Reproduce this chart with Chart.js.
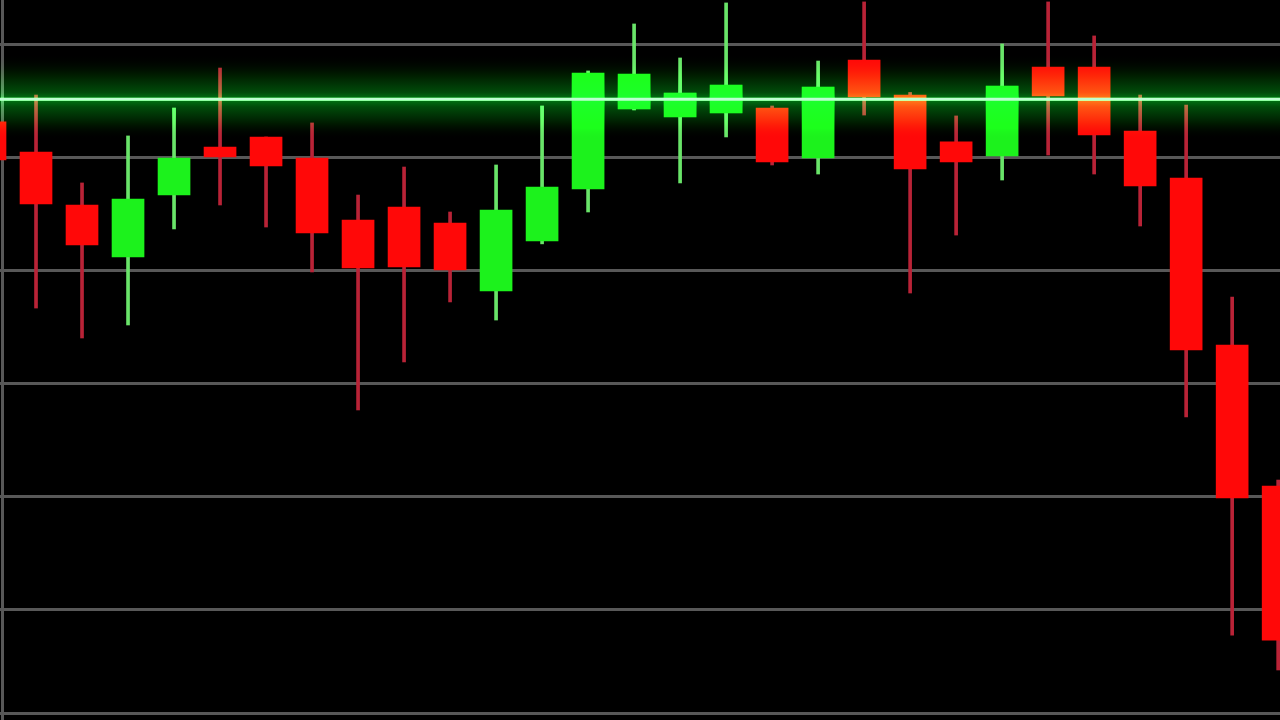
<!DOCTYPE html>
<html>
<head>
<meta charset="utf-8">
<script src="https://cdn.jsdelivr.net/npm/chart.js@4"></script>
<style>
  html, body { margin: 0; padding: 0; background: #000; }
  #chart { display: block; }
</style>
</head>
<body>
<canvas id="chart" width="1280" height="720"></canvas>
<script>
// candle values (one per session, left to right)
const sessions = [0, 1, 2, 3, 4, 5, 6, 7, 8, 9, 10, 11, 12, 13, 14, 15, 16, 17, 18, 19, 20, 21, 22, 23, 24, 25, 26, 27, 28];
const openPrices  = [53.19, 50.53, 45.84, 41.24, 46.72, 50.97, 51.86, 50.00, 44.51, 45.66, 44.25, 38.23, 42.65, 47.26, 54.34, 53.63, 53.98, 54.42, 50.00, 58.67, 55.57, 51.42, 50.18, 58.05, 58.05, 52.39, 48.23, 33.45, 20.97];
const closePrices = [49.82, 45.93, 42.30, 46.37, 50.00, 50.09, 49.29, 43.36, 40.26, 40.35, 40.09, 45.40, 47.43, 57.52, 57.43, 55.75, 56.46, 49.65, 56.28, 55.40, 49.03, 49.65, 56.37, 55.49, 52.03, 47.52, 33.01, 19.91, 7.34];
const highPrices  = [54.25, 55.57, 47.79, 51.95, 54.42, 57.96, 51.86, 53.10, 46.72, 49.20, 45.22, 49.38, 54.60, 57.70, 61.86, 58.85, 63.72, 54.60, 58.58, 63.81, 55.80, 53.72, 60.09, 63.81, 60.80, 55.57, 54.69, 37.70, 21.50];
const lowPrices   = [48.94, 36.72, 34.07, 35.22, 43.72, 45.84, 43.89, 39.91, 27.70, 31.95, 37.26, 35.66, 42.40, 45.22, 54.25, 47.79, 51.86, 49.38, 48.58, 53.80, 38.05, 43.18, 48.05, 50.26, 48.58, 43.98, 27.08, 7.78, 4.69];

// the glowing resistance level
const levelPrice = 55.2;

// gridline positions (no labels shown)
const yTicks = [0.88, 10, 20, 30, 40, 50, 60];
const xTicks = [0.28];

const upBody = 'rgb(28, 242, 28)';
const downBody = 'rgb(255, 8, 8)';
const upWick = 'rgb(105, 228, 105)';
const downWick = 'rgb(185, 35, 55)';

const isUp = sessions.map(i => closePrices[i] >= openPrices[i]);

const bodyData = sessions.map(i => ({ x: i, y: [openPrices[i], closePrices[i]] }));
const wickData = sessions.map(i => ({ x: i, y: [lowPrices[i], highPrices[i]] }));

// green glow around the level line, added over the candles
const glowPlugin = {
    id: 'levelGlow',
    afterDatasetsDraw(chart) {
        const { ctx, chartArea, scales } = chart;
        const y = scales.y.getPixelForValue(levelPrice);
        const top = y - 45;
        const h = 85;
        ctx.save();
        ctx.globalCompositeOperation = 'lighter';
        const g = ctx.createLinearGradient(0, top, 0, top + h);
        g.addColorStop(0, 'rgba(0, 0, 0, 0)');
        g.addColorStop(0.25, 'rgb(0, 30, 0)');
        g.addColorStop(0.45, 'rgb(0, 75, 10)');
        g.addColorStop(0.53, 'rgb(0, 120, 20)');
        g.addColorStop(0.62, 'rgb(0, 75, 10)');
        g.addColorStop(0.82, 'rgb(0, 25, 0)');
        g.addColorStop(1, 'rgba(0, 0, 0, 0)');
        ctx.fillStyle = g;
        ctx.fillRect(chartArea.left, top, chartArea.width, h);
        ctx.restore();
    }
};

new Chart(document.getElementById('chart'), {
    type: 'bar',
    data: {
        datasets: [
            {
                type: 'line',
                label: 'level',
                data: [{ x: 0, y: levelPrice }, { x: 29, y: levelPrice }],
                borderColor: 'rgb(190, 235, 190)',
                borderWidth: 3,
                pointRadius: 0,
                order: 0
            },
            {
                label: 'body',
                data: bodyData,
                backgroundColor: isUp.map(u => u ? upBody : downBody),
                barThickness: 32,
                grouped: false,
                minBarLength: 2,
                borderWidth: 0,
                order: 1
            },
            {
                label: 'wick',
                data: wickData,
                backgroundColor: isUp.map(u => u ? upWick : downWick),
                barThickness: 3,
                grouped: false,
                borderWidth: 0,
                order: 2
            }
        ]
    },
    options: {
        responsive: false,
        animation: false,
        devicePixelRatio: 1,
        layout: { padding: 0 },
        plugins: {
            legend: { display: false },
            tooltip: { enabled: false }
        },
        scales: {
            x: {
                type: 'linear',
                min: 0.217,
                max: 28.04,
                offset: false,
                afterBuildTicks: s => { s.ticks = xTicks.map(v => ({ value: v })); },
                ticks: { display: false },
                grid: { color: 'rgb(88, 88, 88)', lineWidth: 3, drawTicks: false, offset: false },
                border: { display: false }
            },
            y: {
                type: 'linear',
                min: 0.265,
                max: 63.98,
                afterBuildTicks: s => { s.ticks = yTicks.map(v => ({ value: v })); },
                ticks: { display: false },
                grid: { color: 'rgb(88, 88, 88)', lineWidth: 3, drawTicks: false },
                border: { display: false }
            }
        }
    },
    plugins: [glowPlugin]
});
</script>
</body>
</html>
